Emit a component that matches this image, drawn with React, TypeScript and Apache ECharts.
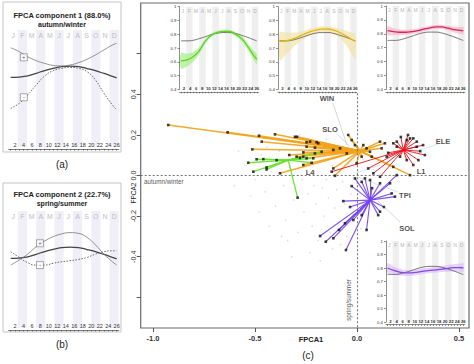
import React, { useEffect, useRef } from "react";
import * as echarts from "echarts";

// ---------- data ----------
const weeks = [1, 3, 5, 7, 9, 11, 13, 15, 17, 19, 21, 23, 25, 26];
const months = ["J", "F", "M", "A", "M", "J", "J", "A", "S", "O", "N", "D"];
const weekLabels = [2, 4, 6, 8, 10, 12, 14, 16, 18, 20, 22, 24, 26];
const xTickVals = [-1.0, -0.5, 0.0, 0.5];
const yTickVals = [-0.6, -0.4, -0.2, 0.0, 0.2, 0.4, 0.6];
const yLabelVals = [-0.4, -0.2, 0.0, 0.2, 0.4];

// panels (a) and (b)
const meanCurve = [0.742, 0.743, 0.750, 0.764, 0.779, 0.791, 0.800, 0.803, 0.800, 0.790, 0.778, 0.763, 0.747, 0.739];
const pc1Plus = [0.903, 0.882, 0.854, 0.833, 0.818, 0.807, 0.804, 0.809, 0.822, 0.840, 0.864, 0.891, 0.918, 0.927];
const pc1Minus = [0.573, 0.600, 0.645, 0.700, 0.749, 0.778, 0.791, 0.796, 0.791, 0.773, 0.727, 0.655, 0.591, 0.564];
const pc2Plus = [0.705, 0.733, 0.765, 0.805, 0.836, 0.860, 0.875, 0.882, 0.878, 0.856, 0.815, 0.765, 0.723, 0.705];
const pc2Minus = [0.778, 0.747, 0.718, 0.705, 0.705, 0.715, 0.723, 0.729, 0.736, 0.747, 0.765, 0.778, 0.783, 0.783];
const pc1Markers = [{ sign: "+", week: 4.1, value: 0.851 }, { sign: "-", week: 4.1, value: 0.633 }];
const pc2Markers = [{ sign: "+", week: 7.9, value: 0.824 }, { sign: "-", week: 7.9, value: 0.705 }];

// inset curves
const refCurve = [0.752, 0.752, 0.756, 0.768, 0.782, 0.797, 0.808, 0.812, 0.812, 0.805, 0.792, 0.777, 0.760, 0.752];
const greenMean = [0.606, 0.613, 0.636, 0.680, 0.748, 0.793, 0.813, 0.821, 0.820, 0.800, 0.768, 0.712, 0.645, 0.618];
const greenUpper = [0.661, 0.658, 0.671, 0.705, 0.766, 0.806, 0.825, 0.833, 0.832, 0.815, 0.788, 0.737, 0.678, 0.656];
const greenLower = [0.551, 0.568, 0.601, 0.655, 0.730, 0.780, 0.801, 0.809, 0.808, 0.785, 0.748, 0.687, 0.612, 0.580];
const yellowMean = [0.748, 0.752, 0.762, 0.780, 0.800, 0.817, 0.830, 0.837, 0.838, 0.828, 0.811, 0.786, 0.760, 0.748];
const yellowUpper = [0.815, 0.812, 0.810, 0.815, 0.826, 0.840, 0.852, 0.858, 0.858, 0.850, 0.838, 0.826, 0.812, 0.805];
const yellowLower = [0.610, 0.650, 0.695, 0.735, 0.768, 0.790, 0.806, 0.814, 0.815, 0.800, 0.770, 0.720, 0.650, 0.615];
const redMean = [0.822, 0.815, 0.811, 0.811, 0.815, 0.822, 0.833, 0.843, 0.849, 0.849, 0.840, 0.830, 0.824, 0.822];
const redUpper = [0.852, 0.840, 0.832, 0.829, 0.832, 0.838, 0.848, 0.858, 0.864, 0.864, 0.857, 0.850, 0.848, 0.850];
const redLower = [0.792, 0.790, 0.790, 0.793, 0.798, 0.806, 0.818, 0.828, 0.834, 0.834, 0.823, 0.810, 0.800, 0.794];
const purpleMean = [0.800, 0.782, 0.770, 0.764, 0.764, 0.770, 0.777, 0.782, 0.786, 0.792, 0.797, 0.803, 0.803, 0.800];
const purpleUpper = [0.835, 0.812, 0.795, 0.787, 0.786, 0.790, 0.796, 0.801, 0.806, 0.814, 0.822, 0.830, 0.834, 0.834];
const purpleLower = [0.762, 0.750, 0.745, 0.741, 0.741, 0.749, 0.757, 0.763, 0.766, 0.770, 0.772, 0.774, 0.772, 0.768];

// main scatter (FPCA1, FPCA2)
const orangeCenter = [0.015, 0.121];
const orangeEnds = [[-0.925, 0.249], [-0.634, 0.213], [-0.480, 0.196], [-0.402, 0.203], [-0.304, 0.191], [-0.294, 0.191], [-0.467, 0.167], [-0.513, 0.129], [-0.377, 0.011], [-0.332, 0.101], [-0.263, 0.114], [-0.247, 0.164], [-0.198, 0.164], [-0.206, 0.137], [-0.230, 0.167], [-0.190, 0.159], [-0.108, -0.001], [-0.043, 0.200], [-0.026, 0.175], [-0.010, 0.150], [0.031, 0.150], [0.047, 0.134], [0.064, 0.117], [0.072, 0.093], [0.023, 0.093], [-0.002, 0.060], [0.137, 0.159], [0.121, 0.134], [0.113, 0.167], [0.260, 0.002], [0.178, 0.043], [-0.116, 0.035], [-0.050, 0.109], [-0.083, 0.134], [-0.116, 0.126], [-0.296, 0.093], [-0.247, 0.085], [-0.263, 0.052], [-0.247, 0.142], [-0.206, 0.109]];
const greenCenter = [-0.337, 0.076];
const greenEnds = [[-0.533, 0.063], [-0.508, 0.019], [-0.492, 0.080], [-0.459, 0.081], [-0.443, 0.030], [-0.291, -0.109], [-0.263, 0.093], [-0.222, 0.063], [-0.173, 0.117], [-0.394, 0.076], [-0.443, 0.040], [-0.214, 0.085], [-0.279, 0.087]];
const redCenter = [0.227, 0.126];
const redEnds = [[0.293, 0.167], [0.260, 0.183], [0.195, 0.167], [0.301, 0.076], [0.276, 0.052], [0.146, 0.093], [0.055, 0.035], [-0.124, 0.019], [0.080, 0.011], [0.113, -0.006], [0.293, 0.142], [0.276, 0.183], [0.244, 0.175], [0.195, 0.142], [0.178, 0.159], [0.211, 0.093], [0.244, 0.076], [0.153, 0.112], [0.324, 0.150], [0.333, 0.101], [0.250, 0.200], [0.215, 0.190], [0.310, 0.120]];
const purpleCenter = [0.064, -0.121];
const purpleEnds = [[-0.181, -0.298], [-0.153, -0.326], [-0.116, -0.309], [-0.054, -0.367], [-0.067, -0.126], [-0.026, -0.052], [-0.010, -0.014], [0.023, -0.031], [0.039, -0.014], [0.064, -0.022], [0.113, -0.038], [0.195, 0.002], [0.186, -0.104], [0.170, -0.088], [0.113, -0.178], [0.104, -0.195], [0.047, -0.268], [-0.018, -0.219], [0.023, -0.195], [-0.059, -0.235], [0.162, -0.038], [-0.088, -0.268], [-0.034, -0.155], [0.132, -0.155], [0.074, -0.062]];
const grayCloud = [[-0.55, 0.05], [-0.50, -0.02], [-0.47, 0.10], [-0.45, -0.08], [-0.42, 0.02], [-0.40, -0.15], [-0.38, 0.12], [-0.36, -0.05], [-0.35, -0.22], [-0.33, 0.04], [-0.31, -0.12], [-0.30, 0.15], [-0.29, -0.28], [-0.27, -0.02], [-0.26, -0.18], [-0.25, 0.08], [-0.24, -0.09], [-0.22, -0.25], [-0.21, 0.02], [-0.20, -0.14], [-0.19, -0.32], [-0.18, 0.10], [-0.17, -0.06], [-0.16, -0.20], [-0.15, -0.02], [-0.14, -0.11], [-0.13, -0.28], [-0.12, 0.05], [-0.11, -0.16], [-0.10, -0.07], [-0.09, -0.23], [-0.08, 0.12], [-0.07, -0.03], [-0.06, -0.14], [-0.05, -0.30], [-0.04, 0.06], [-0.03, -0.09], [-0.02, -0.19], [-0.01, 0.15], [0.00, -0.04], [0.02, -0.26], [0.03, 0.08], [-0.48, -0.18], [-0.43, -0.25], [-0.39, 0.18], [-0.34, -0.32], [-0.28, 0.20], [-0.23, -0.38], [-0.18, -0.42], [-0.12, -0.36], [-0.60, -0.05], [-0.58, 0.12], [-0.52, -0.10], [-0.44, 0.14], [-0.32, -0.40], [-0.26, 0.12], [-0.15, 0.18], [-0.08, -0.34], [-0.21, -0.05], [-0.37, -0.30]];
const varLabels = [
  { name: "WIN", pos: [-0.147, 0.382], from: [-0.118, 0.357], to: [-0.049, 0.150], teal: false },
  { name: "SLO", pos: [-0.132, 0.229], from: [-0.100, 0.208], to: [-0.034, 0.142], teal: false },
  { name: "ELE", pos: [0.422, 0.170], from: [0.407, 0.159], to: [0.260, 0.109], teal: true },
  { name: "L1", pos: [0.314, 0.022], from: [0.113, 0.052], to: [-0.010, 0.011], teal: true },
  { name: "L4", pos: [-0.230, 0.017], from: null, to: null, teal: false },
  { name: "TPI", pos: [0.235, -0.096], from: [0.201, -0.081], to: [0.0, -0.007], teal: true },
  { name: "SOL", pos: [0.245, -0.259], from: [0.211, -0.229], to: [0.103, -0.126], teal: false },
];

const FONT = "'Liberation Sans', Arial, Helvetica, sans-serif";

function buildOption(): any {
  const grid: any[] = [];
  const xAxis: any[] = [];
  const yAxis: any[] = [];
  const series: any[] = [];
  const allWeeks = Array.from({ length: 26 }, (_, i) => i + 1);

  // ---------- main panel (c) ----------
  grid.push({ left: 140.7, top: 3, width: 328.3, height: 325, show: true, borderColor: "#6a6a6a", borderWidth: 1.2, backgroundColor: "#fff" });
  xAxis.push({
    type: "value", gridIndex: 0, min: -1.06, max: 0.549,
    splitLine: { show: false },
    axisLine: { show: false, onZero: false },
    axisTick: { show: true, customValues: xTickVals, length: 4, lineStyle: { color: "#555" } },
    axisLabel: { customValues: xTickVals, formatter: (v: number) => v.toFixed(1), fontSize: 7.5, fontWeight: "bold", color: "#333", margin: 6, fontFamily: FONT },
  });
  yAxis.push({
    type: "value", gridIndex: 0, min: -0.751, max: 0.85,
    splitLine: { show: false },
    axisLine: { show: false, onZero: false },
    axisTick: { show: true, customValues: yTickVals, length: 4, lineStyle: { color: "#555" } },
    axisLabel: { customValues: yLabelVals, rotate: 90, formatter: (v: number) => v.toFixed(1), fontSize: 7.2, color: "#333", margin: 4, fontFamily: FONT },
  });

  series.push({
    type: "scatter", xAxisIndex: 0, yAxisIndex: 0, z: 1, silent: true,
    symbolSize: 1.6, itemStyle: { color: "#d4d4d4" }, data: grayCloud,
    markLine: {
      silent: true, symbol: "none", label: { show: false },
      lineStyle: { type: [2, 2], color: "#777", width: 1.1 },
      data: [
        [{ coord: [-1.06, 0] }, { coord: [0.549, 0] }],
        [{ coord: [0, 0.406] }, { coord: [0, -0.751] }],
      ],
    },
  });

  const groups = [
    { c: orangeCenter, e: orangeEnds, color: "#f2a31b", w: 1.5 },
    { c: greenCenter, e: greenEnds, color: "#66e22a", w: 1.4 },
    { c: redCenter, e: redEnds, color: "#e8151b", w: 1.0 },
    { c: purpleCenter, e: purpleEnds, color: "#7343ee", w: 1.1 },
  ];
  groups.forEach((g, k) => {
    series.push({
      type: "lines", coordinateSystem: "cartesian2d", xAxisIndex: 0, yAxisIndex: 0, silent: true, z: 3 + k,
      lineStyle: { color: g.color, width: g.w, opacity: 0.92 },
      data: g.e.map((p) => ({ coords: [g.c, p] })),
    });
  });
  series.push({
    type: "lines", coordinateSystem: "cartesian2d", xAxisIndex: 0, yAxisIndex: 0, silent: true, z: 8,
    data: varLabels.filter((l) => l.from).map((l) => ({
      coords: [l.from, l.to],
      lineStyle: { color: l.teal ? "#8fc6c8" : "#9a9a9a", width: 0.8 },
    })),
  });
  series.push({
    type: "scatter", xAxisIndex: 0, yAxisIndex: 0, z: 9, silent: true,
    symbol: "rect", symbolSize: 2.6, itemStyle: { color: "#111" },
    data: [...orangeEnds, ...greenEnds, ...redEnds, ...purpleEnds],
  });
  series.push({
    type: "scatter", xAxisIndex: 0, yAxisIndex: 0, z: 10, silent: true,
    symbolSize: 1, itemStyle: { color: "rgba(0,0,0,0)" },
    label: { show: true, position: "inside", formatter: "{b}", fontSize: 7.5, fontWeight: "bold", color: "#222", fontFamily: FONT },
    data: [
      ...varLabels.map((l) => ({ name: l.name, value: l.pos })),
      { name: "autumn/winter", value: [-1.046, -0.027], label: { position: "right", distance: 0, fontSize: 6.3, fontWeight: "normal" } },
      { name: "spring/summer", value: [-0.044, -0.613], label: { rotate: 90, fontSize: 6.3, fontWeight: "normal" } },
    ],
  });

  // ---------- insets ----------
  const insets = [
    { left: 179.5, top: 6.7, height: 82.6, mean: greenMean, lo: greenLower, hi: greenUpper, line: "#5fd02c", band: "rgba(150,238,110,0.6)" },
    { left: 278, top: 6.7, height: 82.6, mean: yellowMean, lo: yellowLower, hi: yellowUpper, line: "#e4b414", band: "rgba(240,226,165,0.65)" },
    { left: 386, top: 6, height: 83.3, mean: redMean, lo: redLower, hi: redUpper, line: "#d6245c", band: "rgba(245,165,190,0.55)" },
    { left: 386, top: 241, height: 81, mean: purpleMean, lo: purpleLower, hi: purpleUpper, line: "#8a46e8", band: "rgba(208,180,246,0.55)" },
  ];
  insets.forEach((ins) => {
    const gi = grid.length;
    grid.push({ left: ins.left, top: ins.top, width: 78.8, height: ins.height, show: true, backgroundColor: "#fff", borderWidth: 0 });
    const xb = xAxis.length;
    xAxis.push({
      type: "value", gridIndex: gi, min: 0.5, max: 26.5, position: "bottom", offset: 2.5, z: 30,
      splitLine: { show: false },
      axisLine: { show: true, onZero: false, lineStyle: { color: "#444", width: 0.6 } },
      axisTick: { customValues: allWeeks, length: 1.5, lineStyle: { color: "#444", width: 0.6 } },
      axisLabel: { customValues: weekLabels, inside: true, fontSize: 4.3, color: "#333", margin: 1.5, fontWeight: "bold", fontFamily: FONT },
    });
    xAxis.push({
      type: "category", gridIndex: gi, position: "top", data: months, boundaryGap: true,
      axisLine: { show: false }, axisTick: { show: false, interval: 0 },
      axisLabel: { inside: true, interval: 0, fontSize: 5, color: "#b3b3b3", margin: 1.5, fontFamily: FONT },
      splitArea: { show: true, interval: 0, areaStyle: { color: ["rgba(255,255,255,0)", "#efefef"] } },
    });
    const yi = yAxis.length;
    yAxis.push({
      type: "value", gridIndex: gi, min: 0.4, max: 1, interval: 0.1, z: 30,
      splitLine: { show: false },
      axisLine: { show: true, onZero: false, lineStyle: { color: "#444", width: 0.6 } },
      axisTick: { length: 2, lineStyle: { color: "#444", width: 0.6 } },
      axisLabel: { fontSize: 4.3, color: "#333", margin: 3, fontFamily: FONT, formatter: (v: number) => (v > 0.999 ? "1" : v.toFixed(1)) },
    });
    const bandColor = ins.band;
    series.push({
      type: "custom", coordinateSystem: "cartesian2d", xAxisIndex: xb, yAxisIndex: yi, silent: true, z: 21,
      encode: { x: 0, y: [1, 2] },
      data: weeks.map((w, j) => [w, ins.lo[j], ins.hi[j]]),
      renderItem: (params: any, api: any) => {
        if (params.dataIndexInside !== 0) return null;
        const n = params.dataInsideLength;
        const top: number[][] = [];
        const bot: number[][] = [];
        for (let j = 0; j < n; j++) {
          top.push(api.coord([api.value(0, j), api.value(2, j)]));
          bot.push(api.coord([api.value(0, j), api.value(1, j)]));
        }
        return { type: "polygon", shape: { points: top.concat(bot.reverse()), smooth: 0.35 }, style: { fill: bandColor } };
      },
    });
    series.push({
      type: "line", xAxisIndex: xb, yAxisIndex: yi, smooth: true, symbol: "none", silent: true, z: 22,
      lineStyle: { color: "#555", width: 0.8 },
      data: weeks.map((w, j) => [w, refCurve[j]]),
    });
    series.push({
      type: "line", xAxisIndex: xb, yAxisIndex: yi, smooth: true, symbol: "none", silent: true, z: 23,
      lineStyle: { color: ins.line, width: 1.3 },
      data: weeks.map((w, j) => [w, ins.mean[j]]),
    });
  });

  // ---------- panels (a) (b) ----------
  const panels = [
    { top: 30, plus: pc1Plus, minus: pc1Minus, markers: pc1Markers },
    { top: 211, plus: pc2Plus, minus: pc2Minus, markers: pc2Markers },
  ];
  panels.forEach((p) => {
    const gi = grid.length;
    grid.push({ left: 8.6, top: p.top, width: 110.2, height: 117, show: false });
    const xb = xAxis.length;
    xAxis.push({
      type: "value", gridIndex: gi, min: 0.5, max: 26.5, position: "bottom", offset: 2,
      splitLine: { show: false },
      axisLine: { show: true, onZero: false, lineStyle: { color: "#444", width: 0.7 } },
      axisTick: { customValues: allWeeks, length: 1.5, lineStyle: { color: "#444", width: 0.7 } },
      axisLabel: { customValues: weekLabels, inside: true, fontSize: 5.5, color: "#333", margin: 1.5, fontFamily: FONT },
    });
    xAxis.push({
      type: "category", gridIndex: gi, position: "top", data: months, boundaryGap: true,
      axisLine: { show: false }, axisTick: { show: false, interval: 0 },
      axisLabel: { inside: true, interval: 0, fontSize: 7, color: "#bdbdbd", margin: 2, fontFamily: FONT },
      splitArea: { show: true, interval: 0, areaStyle: { color: ["rgba(255,255,255,0)", "#f0eff7"] } },
    });
    const yi = yAxis.length;
    yAxis.push({ type: "value", gridIndex: gi, min: 0.362, max: 1, show: false, splitLine: { show: false } });
    series.push({
      type: "line", xAxisIndex: xb, yAxisIndex: yi, smooth: true, symbol: "none", silent: true,
      lineStyle: { color: "#444", width: 1.3 }, data: weeks.map((w, j) => [w, meanCurve[j]]),
    });
    series.push({
      type: "line", xAxisIndex: xb, yAxisIndex: yi, smooth: true, symbol: "none", silent: true,
      lineStyle: { color: "#777", width: 0.8 }, data: weeks.map((w, j) => [w, p.plus[j]]),
    });
    series.push({
      type: "line", xAxisIndex: xb, yAxisIndex: yi, smooth: true, symbol: "none", silent: true,
      lineStyle: { color: "#555", width: 0.9, type: [1.5, 1.5] }, data: weeks.map((w, j) => [w, p.minus[j]]),
    });
    series.push({
      type: "scatter", xAxisIndex: xb, yAxisIndex: yi, silent: true, z: 5,
      symbol: "rect", symbolSize: 7,
      itemStyle: { color: "#fff", borderColor: "#666", borderWidth: 0.7 },
      label: { show: true, position: "inside", formatter: "{b}", fontSize: 6, color: "#333", fontFamily: FONT },
      data: p.markers.map((m) => ({ name: m.sign, value: [m.week, m.value] })),
    });
  });

  const txt = (text: string, x: number, y: number, size: number, bold: boolean, rot = 0) => ({
    type: "text", x, y, rotation: rot, silent: true, z: 50,
    style: { text, fontSize: size, fontWeight: bold ? "bold" : "normal", fontFamily: FONT, fill: "#222", align: "center", verticalAlign: "middle" },
  });
  const graphic = [
    { type: "rect", shape: { x: 3, y: 2, width: 118, height: 150 }, style: { fill: "none", stroke: "#c4c4c4", lineWidth: 1 }, silent: true },
    { type: "rect", shape: { x: 3, y: 183, width: 118, height: 149 }, style: { fill: "none", stroke: "#c4c4c4", lineWidth: 1 }, silent: true },
    txt("FPCA component 1 (88.0%)", 62, 15, 7.5, true),
    txt("autumn/winter", 62, 24, 7, true),
    txt("(a)", 62, 164, 10, false),
    txt("FPCA component 2 (22.7%)", 62, 194, 7.5, true),
    txt("spring/summer", 62, 203.5, 7, true),
    txt("(b)", 62, 344, 10, false),
    txt("(c)", 308, 355, 10, false),
    txt("FPCA1", 311, 339, 7.5, true),
    txt("FPCA2", 133, 193, 6.5, false, Math.PI / 2),
  ];

  return { animation: false, backgroundColor: "#fff", grid, xAxis, yAxis, series, graphic };
}

export default function App() {
  const ref = useRef<HTMLDivElement>(null);
  useEffect(() => {
    const chart = echarts.init(ref.current as HTMLDivElement, null, { renderer: "svg" });
    chart.setOption(buildOption());
    return () => chart.dispose();
  }, []);
  return <div ref={ref} style={{ position: "fixed", left: 0, top: 0, width: 474, height: 364, background: "#fff" }} />;
}
